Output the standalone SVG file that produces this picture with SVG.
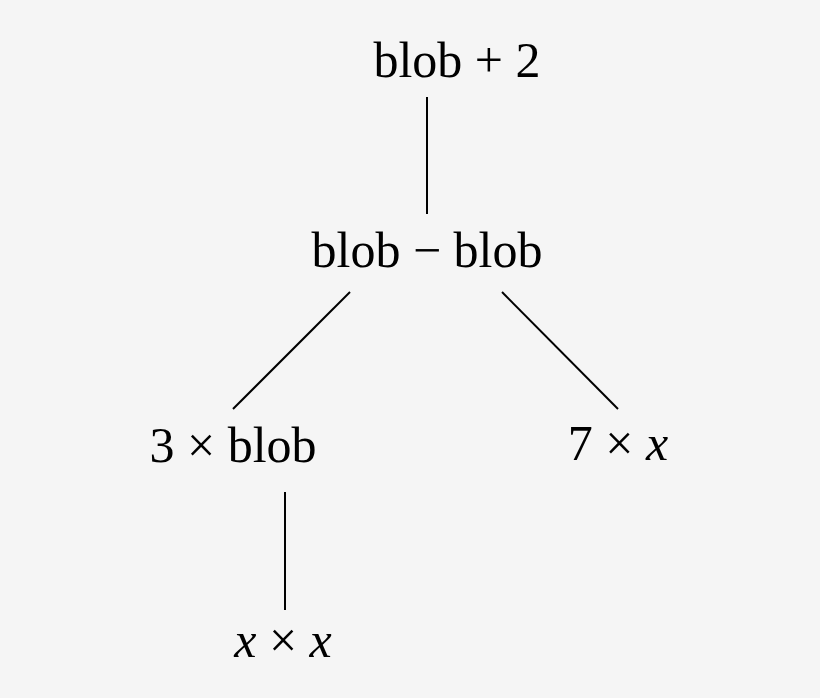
<svg xmlns="http://www.w3.org/2000/svg" width="820" height="698" viewBox="0 0 820 698">
<style>
text{font-family:"Liberation Serif","DejaVu Serif",serif;font-size:50px;fill:#000;text-anchor:middle}
.i{font-style:italic}
line{stroke:#000;stroke-width:2}
</style>
<rect width="820" height="698" fill="#f5f5f5"/>
<g id="connectors">
<line x1="427" y1="97" x2="427" y2="214"/>
<line x1="350" y1="292" x2="233" y2="409"/>
<line x1="502" y1="292" x2="618" y2="409"/>
<line x1="285" y1="492" x2="285" y2="610"/>
</g>
<g id="n1"><text x="457" y="77">blob + 2</text></g>
<g id="n2"><text x="427" y="267">blob − blob</text></g>
<g id="n3"><text x="233" y="462">3 × blob</text></g>
<g id="n4"><text x="618" y="460">7 × <tspan class="i">x</tspan></text></g>
<g id="n5"><text x="283" y="657"><tspan class="i">x</tspan> × <tspan class="i">x</tspan></text></g>
</svg>
